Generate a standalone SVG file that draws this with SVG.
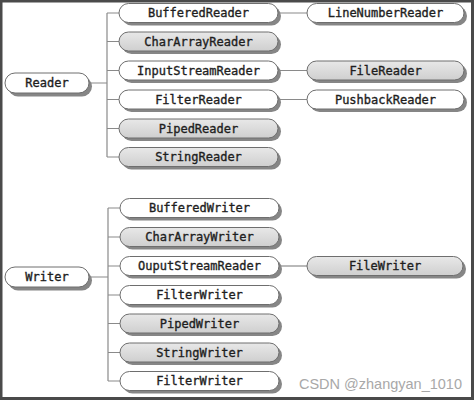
<svg xmlns="http://www.w3.org/2000/svg" width="474" height="400" viewBox="0 0 474 400">
<defs>
<linearGradient id="g" x1="0" y1="0" x2="0" y2="1">
<stop offset="0" stop-color="#e8e8e8"/>
<stop offset="1" stop-color="#cfcfcf"/>
</linearGradient>
</defs>
<style>
.sh{fill:#868686}
.w{fill:#ffffff;stroke:#6e6e6e;stroke-width:1}
.gr{fill:url(#g);stroke:#6e6e6e;stroke-width:1}
.t{font-family:"DejaVu Sans Mono","Liberation Mono",monospace;font-size:12px;fill:#1e1e1e;stroke:#1e1e1e;stroke-width:0.35;text-anchor:middle;dominant-baseline:central}
.c{fill:none;stroke:#8a8a8a;stroke-width:1.2}
.wm{font-family:"Liberation Sans",Arial,sans-serif;font-size:14.5px;fill:#a8a8a8;text-anchor:end}
</style>
<rect x="0" y="0" width="474" height="400" fill="#ffffff"/>
<g id="connectors">
<path class="c" d="M89 83 H107 M107 13 V157 M107 13 H119 M107 41.5 H119 M107 70.5 H119 M107 99.5 H119 M107 128.5 H119 M107 157 H119"/>
<path class="c" d="M278 13 H307 M278 70.5 H307 M278 99.5 H307"/>
<path class="c" d="M89 277 H108 M108 208 V381 M108 208 H120 M108 237 H120 M108 266 H120 M108 295 H120 M108 323.5 H120 M108 352.5 H120 M108 381 H120"/>
<path class="c" d="M279 266 H307"/>
</g>
<g id="Reader"><rect class="sh" x="8" y="76.5" width="84" height="20" rx="10"/><rect class="w" x="5" y="73" width="84" height="20" rx="10"/><text class="t" x="47" y="83">Reader</text></g>
<g id="BufferedReader"><rect class="sh" x="122" y="6.5" width="159" height="19" rx="9.5"/><rect class="w" x="119" y="3.5" width="159" height="19" rx="9.5"/><text class="t" x="198.5" y="13">BufferedReader</text></g>
<g id="CharArrayReader"><rect class="sh" x="122" y="35" width="159" height="19" rx="9.5"/><rect class="gr" x="119" y="32" width="159" height="19" rx="9.5"/><text class="t" x="198.5" y="41.5">CharArrayReader</text></g>
<g id="InputStreamReader"><rect class="sh" x="122" y="64" width="159" height="19" rx="9.5"/><rect class="w" x="119" y="61" width="159" height="19" rx="9.5"/><text class="t" x="198.5" y="70.5">InputStreamReader</text></g>
<g id="FilterReader"><rect class="sh" x="122" y="93" width="159" height="19" rx="9.5"/><rect class="w" x="119" y="90" width="159" height="19" rx="9.5"/><text class="t" x="198.5" y="99.5">FilterReader</text></g>
<g id="PipedReader"><rect class="sh" x="122" y="122" width="159" height="19" rx="9.5"/><rect class="gr" x="119" y="119" width="159" height="19" rx="9.5"/><text class="t" x="198.5" y="128.5">PipedReader</text></g>
<g id="StringReader"><rect class="sh" x="122" y="150.5" width="159" height="19" rx="9.5"/><rect class="gr" x="119" y="147.5" width="159" height="19" rx="9.5"/><text class="t" x="198.5" y="157">StringReader</text></g>
<g id="LineNumberReader"><rect class="sh" x="310" y="6.5" width="157" height="19" rx="9.5"/><rect class="w" x="307" y="3.5" width="157" height="19" rx="9.5"/><text class="t" x="385.5" y="13">LineNumberReader</text></g>
<g id="FileReader"><rect class="sh" x="310" y="64" width="157" height="19" rx="9.5"/><rect class="gr" x="307" y="61" width="157" height="19" rx="9.5"/><text class="t" x="385.5" y="70.5">FileReader</text></g>
<g id="PushbackReader"><rect class="sh" x="310" y="93" width="157" height="19" rx="9.5"/><rect class="w" x="307" y="90" width="157" height="19" rx="9.5"/><text class="t" x="385.5" y="99.5">PushbackReader</text></g>
<g id="Writer"><rect class="sh" x="8" y="270.5" width="84" height="20" rx="10"/><rect class="w" x="5" y="267" width="84" height="20" rx="10"/><text class="t" x="47" y="277">Writer</text></g>
<g id="BufferedWriter"><rect class="sh" x="123" y="201.5" width="159" height="19" rx="9.5"/><rect class="w" x="120" y="198.5" width="159" height="19" rx="9.5"/><text class="t" x="199.5" y="208">BufferedWriter</text></g>
<g id="CharArrayWriter"><rect class="sh" x="123" y="230.5" width="159" height="19" rx="9.5"/><rect class="gr" x="120" y="227.5" width="159" height="19" rx="9.5"/><text class="t" x="199.5" y="237">CharArrayWriter</text></g>
<g id="OuputStreamReader"><rect class="sh" x="123" y="259.5" width="159" height="19" rx="9.5"/><rect class="w" x="120" y="256.5" width="159" height="19" rx="9.5"/><text class="t" x="199.5" y="266">OuputStreamReader</text></g>
<g id="FilterWriter1"><rect class="sh" x="123" y="288.5" width="159" height="19" rx="9.5"/><rect class="w" x="120" y="285.5" width="159" height="19" rx="9.5"/><text class="t" x="199.5" y="295">FilterWriter</text></g>
<g id="PipedWriter"><rect class="sh" x="123" y="317" width="159" height="19" rx="9.5"/><rect class="gr" x="120" y="314" width="159" height="19" rx="9.5"/><text class="t" x="199.5" y="323.5">PipedWriter</text></g>
<g id="StringWriter"><rect class="sh" x="123" y="346" width="159" height="19" rx="9.5"/><rect class="gr" x="120" y="343" width="159" height="19" rx="9.5"/><text class="t" x="199.5" y="352.5">StringWriter</text></g>
<g id="FilterWriter2"><rect class="sh" x="123" y="374.5" width="159" height="19" rx="9.5"/><rect class="w" x="120" y="371.5" width="159" height="19" rx="9.5"/><text class="t" x="199.5" y="381">FilterWriter</text></g>
<g id="FileWriter"><rect class="sh" x="310" y="259.5" width="156" height="19" rx="9.5"/><rect class="gr" x="307" y="256.5" width="156" height="19" rx="9.5"/><text class="t" x="385" y="266">FileWriter</text></g>
<text class="wm" x="462" y="389">CSDN @zhangyan_1010</text>
<path d="M1 0 V400 M0 1 H474 M472.5 0 V400 M0 398.5 H474" fill="none" stroke="#4a4a4a" stroke-width="3"/>
</svg>
